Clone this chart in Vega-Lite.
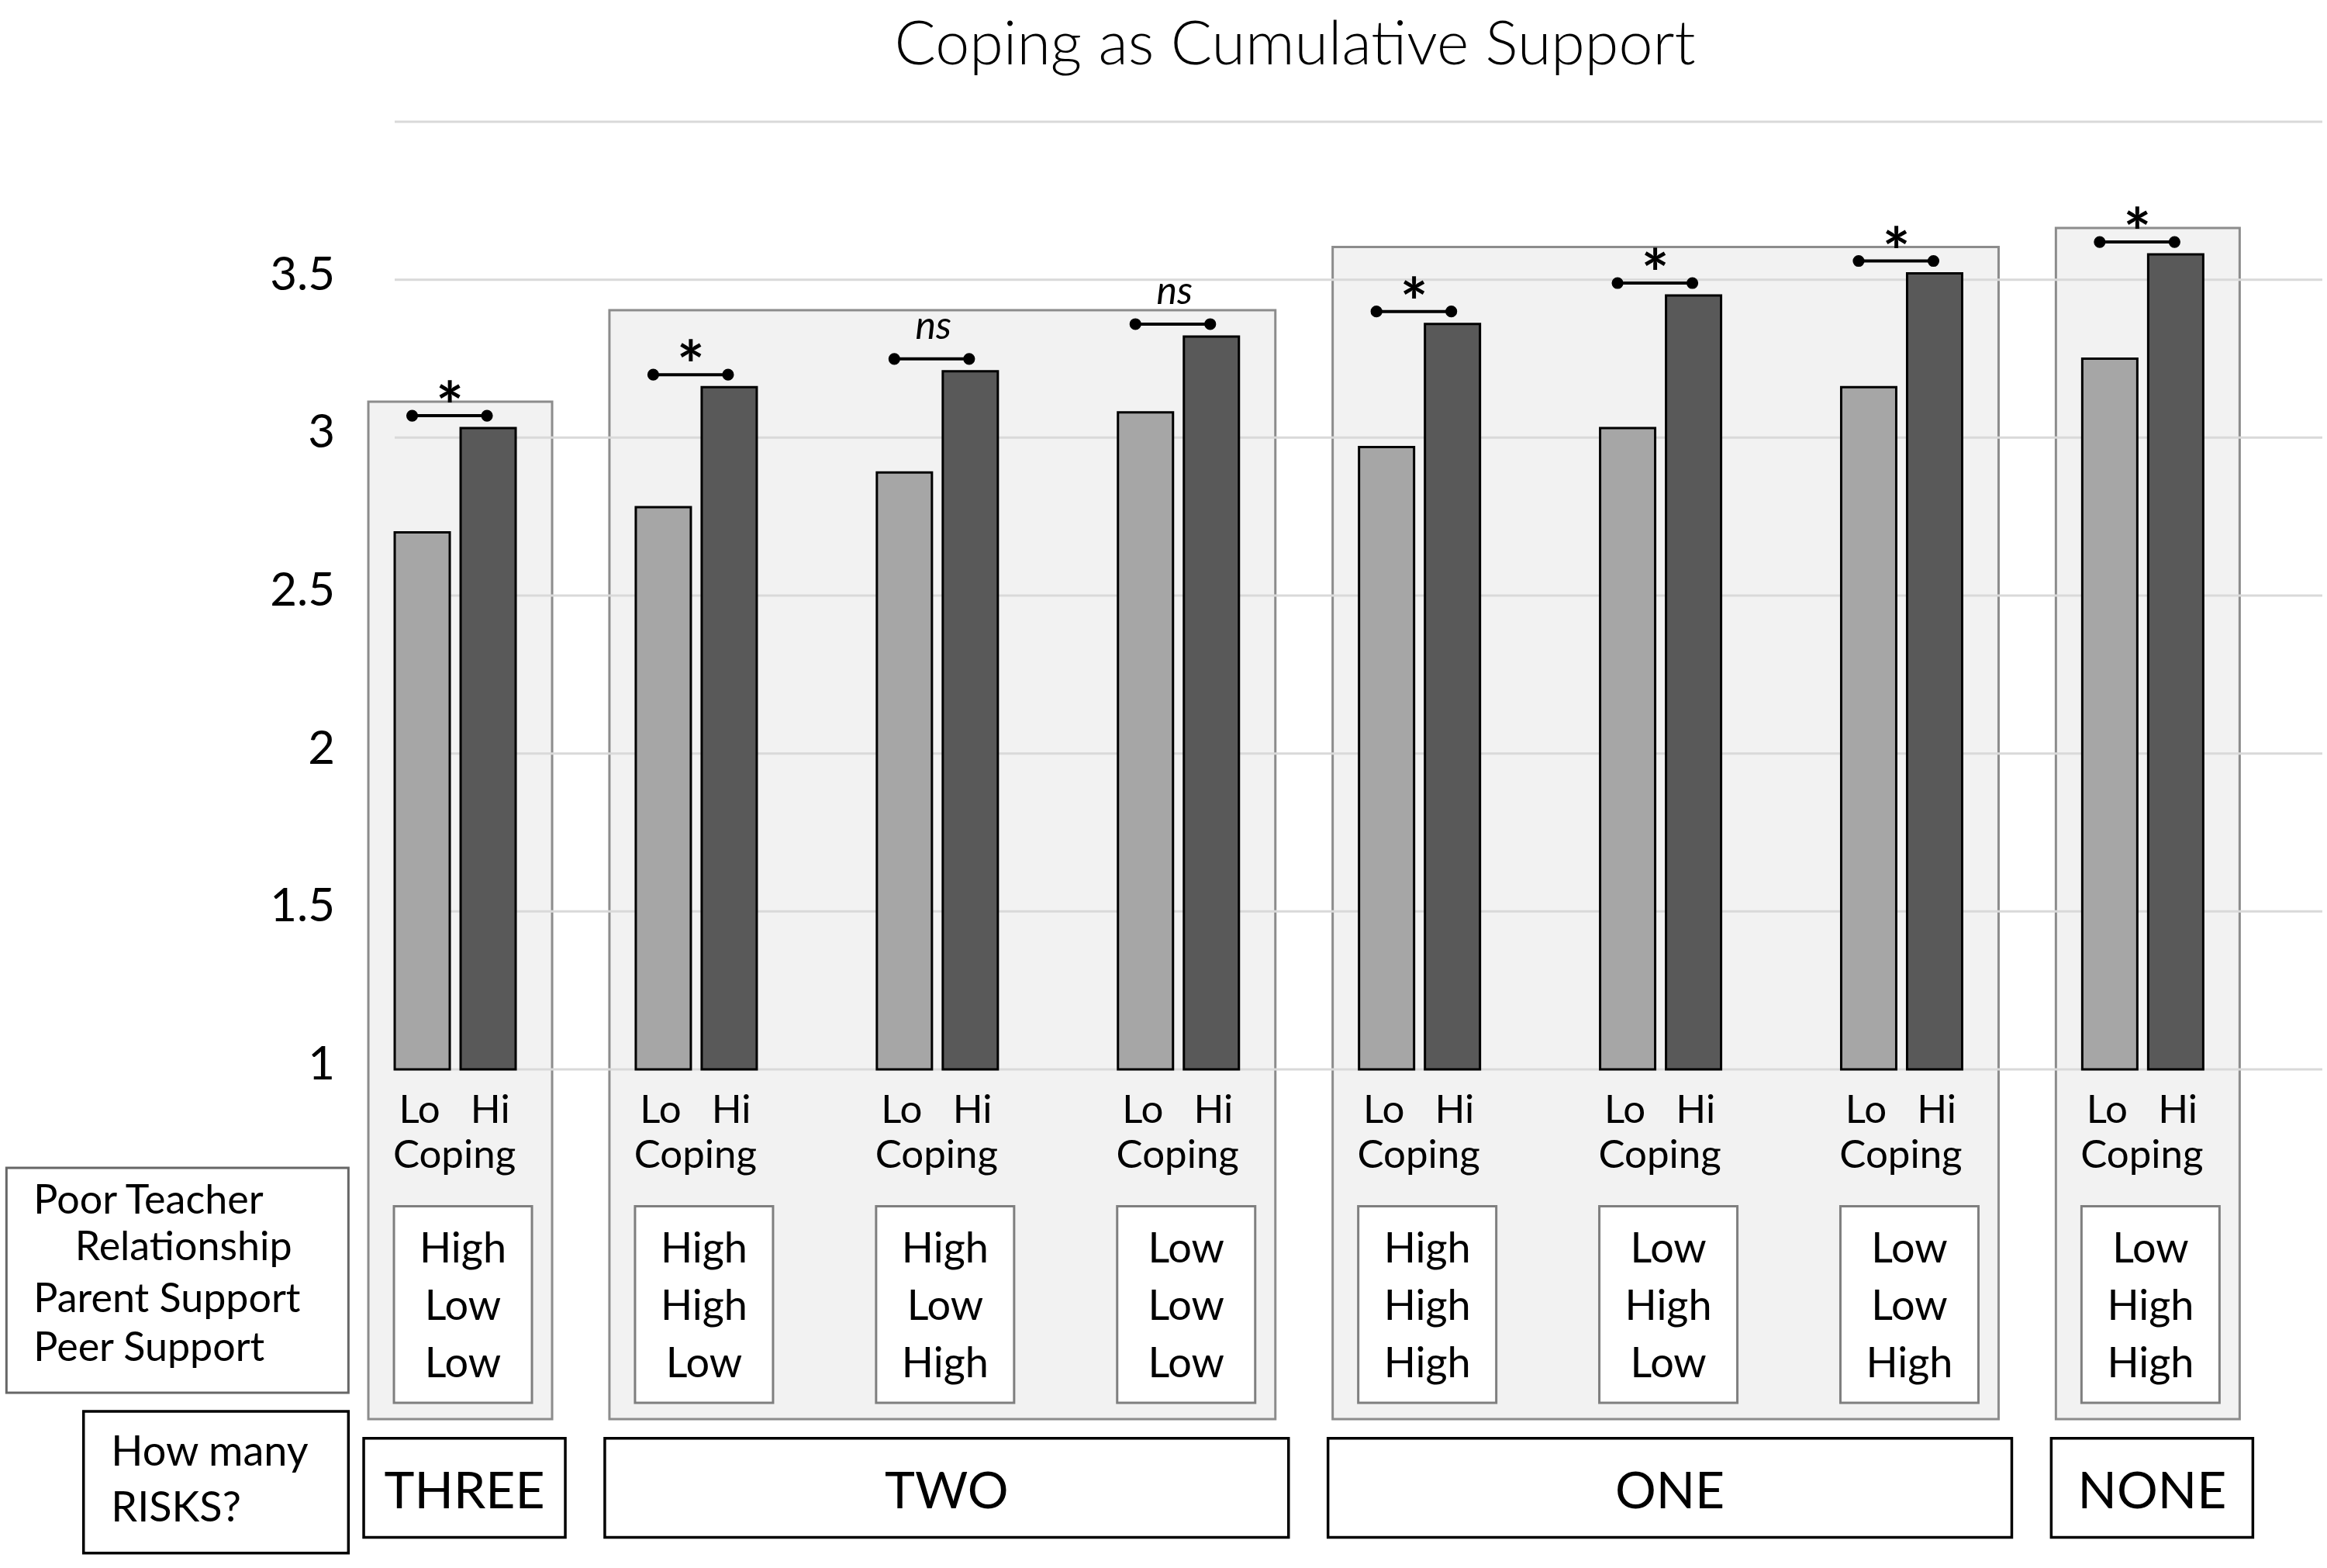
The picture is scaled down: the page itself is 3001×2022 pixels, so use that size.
{
  "$schema": "https://vega.github.io/schema/vega-lite/v6.json",
  "width": 2486,
  "height": 1222,
  "autosize": {"type": "none"},
  "padding": {"left": 509, "top": 157, "right": 6, "bottom": 643},
  "background": "white",
  "title": {"text": "Coping as Cumulative Support", "fontSize": 79, "font": "Lato", "fontWeight": 300, "color": "#000000", "anchor": "middle", "dx": -82, "offset": 56},
  "config": {"view": {"stroke": null}, "text": {"font": "Lato", "color": "#000000"}},
  "datasets": {
    "bars": [
      {"group": 1, "risk": "THREE", "coping": "Lo", "value": 2.70, "teacher": "High", "parent": "Low", "peer": "Low", "sig": "*"},
      {"group": 1, "risk": "THREE", "coping": "Hi", "value": 3.03, "teacher": "High", "parent": "Low", "peer": "Low", "sig": "*"},
      {"group": 2, "risk": "TWO", "coping": "Lo", "value": 2.78, "teacher": "High", "parent": "High", "peer": "Low", "sig": "*"},
      {"group": 2, "risk": "TWO", "coping": "Hi", "value": 3.16, "teacher": "High", "parent": "High", "peer": "Low", "sig": "*"},
      {"group": 3, "risk": "TWO", "coping": "Lo", "value": 2.89, "teacher": "High", "parent": "Low", "peer": "High", "sig": "ns"},
      {"group": 3, "risk": "TWO", "coping": "Hi", "value": 3.21, "teacher": "High", "parent": "Low", "peer": "High", "sig": "ns"},
      {"group": 4, "risk": "TWO", "coping": "Lo", "value": 3.08, "teacher": "Low", "parent": "Low", "peer": "Low", "sig": "ns"},
      {"group": 4, "risk": "TWO", "coping": "Hi", "value": 3.32, "teacher": "Low", "parent": "Low", "peer": "Low", "sig": "ns"},
      {"group": 5, "risk": "ONE", "coping": "Lo", "value": 2.97, "teacher": "High", "parent": "High", "peer": "High", "sig": "*"},
      {"group": 5, "risk": "ONE", "coping": "Hi", "value": 3.36, "teacher": "High", "parent": "High", "peer": "High", "sig": "*"},
      {"group": 6, "risk": "ONE", "coping": "Lo", "value": 3.03, "teacher": "Low", "parent": "High", "peer": "Low", "sig": "*"},
      {"group": 6, "risk": "ONE", "coping": "Hi", "value": 3.45, "teacher": "Low", "parent": "High", "peer": "Low", "sig": "*"},
      {"group": 7, "risk": "ONE", "coping": "Lo", "value": 3.16, "teacher": "Low", "parent": "Low", "peer": "High", "sig": "*"},
      {"group": 7, "risk": "ONE", "coping": "Hi", "value": 3.52, "teacher": "Low", "parent": "Low", "peer": "High", "sig": "*"},
      {"group": 8, "risk": "NONE", "coping": "Lo", "value": 3.25, "teacher": "Low", "parent": "High", "peer": "High", "sig": "*"},
      {"group": 8, "risk": "NONE", "coping": "Hi", "value": 3.58, "teacher": "Low", "parent": "High", "peer": "High", "sig": "*"}
    ],
    "grid": [{"v": 1}, {"v": 1.5}, {"v": 2}, {"v": 2.5}, {"v": 3}, {"v": 3.5}, {"v": 4}],
    "legend": [{"first": "Poor Teacher", "second": "Relationship", "rest": ["Parent Support", "Peer Support"]}],
    "question": [{"lines": ["How many", "RISKS?"]}]
  },
  "layer": [
    {
      "data": {"name": "bars"},
      "transform": [{"aggregate": [{"op": "min", "field": "group", "as": "g0"}, {"op": "max", "field": "group", "as": "g1"}, {"op": "max", "field": "value", "as": "vmax"}], "groupby": ["risk"]}],
      "mark": {"type": "rect", "fill": "#f2f2f2", "stroke": "#8c8c8c", "strokeWidth": 3, "xOffset": -112, "x2Offset": 125, "yOffset": -34},
      "encoding": {
        "x": {"field": "g0", "type": "quantitative", "scale": {"domain": [0.749, 8.745], "nice": false, "zero": false}, "axis": null},
        "x2": {"field": "g1"},
        "y": {"field": "vmax", "type": "quantitative", "scale": {"domain": [1, 4], "nice": false, "zero": false}, "axis": null},
        "y2": {"datum": -0.107}
      }
    },
    {
      "data": {"name": "grid"},
      "mark": {"type": "rule", "color": "#d9d9d9", "strokeWidth": 3},
      "encoding": {
        "y": {"field": "v", "type": "quantitative", "scale": {"domain": [1, 4], "nice": false, "zero": false}, "axis": null}
      }
    },
    {
      "data": {"name": "grid"},
      "transform": [{"filter": "datum.v < 4"}],
      "mark": {"type": "text", "fontSize": 60, "align": "right", "baseline": "alphabetic", "dy": 13},
      "encoding": {
        "x": {"datum": 0.5014, "scale": {"domain": [0.749, 8.745], "nice": false, "zero": false}, "axis": null},
        "y": {"field": "v", "type": "quantitative", "scale": {"domain": [1, 4], "nice": false, "zero": false}, "axis": null},
        "text": {"field": "v", "type": "quantitative", "format": "~g"}
      }
    },
    {
      "data": {"name": "bars"},
      "transform": [{"filter": "datum.coping === 'Lo'"}],
      "mark": {"type": "rect", "fill": "#a6a6a6", "stroke": "#000000", "strokeWidth": 3, "xOffset": -78, "x2Offset": -7},
      "encoding": {
        "x": {"field": "group", "type": "quantitative", "scale": {"domain": [0.749, 8.745], "nice": false, "zero": false}, "axis": null},
        "x2": {"field": "group"},
        "y": {"field": "value", "type": "quantitative", "scale": {"domain": [1, 4], "nice": false, "zero": false}, "axis": null},
        "y2": {"datum": 1}
      }
    },
    {
      "data": {"name": "bars"},
      "transform": [{"filter": "datum.coping === 'Hi'"}],
      "mark": {"type": "rect", "fill": "#595959", "stroke": "#000000", "strokeWidth": 3, "xOffset": 7, "x2Offset": 78},
      "encoding": {
        "x": {"field": "group", "type": "quantitative", "scale": {"domain": [0.749, 8.745], "nice": false, "zero": false}, "axis": null},
        "x2": {"field": "group"},
        "y": {"field": "value", "type": "quantitative", "scale": {"domain": [1, 4], "nice": false, "zero": false}, "axis": null},
        "y2": {"datum": 1}
      }
    },
    {
      "data": {"name": "bars"},
      "transform": [{"filter": "datum.coping === 'Hi'"}],
      "mark": {"type": "rule", "color": "#000000", "strokeWidth": 4, "xOffset": -55.5, "x2Offset": 41, "yOffset": -16},
      "encoding": {
        "x": {"field": "group", "type": "quantitative", "scale": {"domain": [0.749, 8.745], "nice": false, "zero": false}, "axis": null},
        "x2": {"field": "group"},
        "y": {"field": "value", "type": "quantitative", "scale": {"domain": [1, 4], "nice": false, "zero": false}, "axis": null}
      }
    },
    {
      "data": {"name": "bars"},
      "transform": [{"filter": "datum.coping === 'Hi'"}],
      "mark": {"type": "circle", "color": "#000000", "opacity": 1, "size": 230, "xOffset": -55.5, "yOffset": -16},
      "encoding": {
        "x": {"field": "group", "type": "quantitative", "scale": {"domain": [0.749, 8.745], "nice": false, "zero": false}, "axis": null},
        "y": {"field": "value", "type": "quantitative", "scale": {"domain": [1, 4], "nice": false, "zero": false}, "axis": null}
      }
    },
    {
      "data": {"name": "bars"},
      "transform": [{"filter": "datum.coping === 'Hi'"}],
      "mark": {"type": "circle", "color": "#000000", "opacity": 1, "size": 230, "xOffset": 41, "yOffset": -16},
      "encoding": {
        "x": {"field": "group", "type": "quantitative", "scale": {"domain": [0.749, 8.745], "nice": false, "zero": false}, "axis": null},
        "y": {"field": "value", "type": "quantitative", "scale": {"domain": [1, 4], "nice": false, "zero": false}, "axis": null}
      }
    },
    {
      "data": {"name": "bars"},
      "transform": [{"filter": "datum.coping === 'Hi' && datum.sig === '*'"}],
      "mark": {"type": "text", "fontSize": 84, "fontWeight": "bold", "align": "center", "baseline": "alphabetic", "dx": -7, "dy": 2},
      "encoding": {
        "x": {"field": "group", "type": "quantitative", "scale": {"domain": [0.749, 8.745], "nice": false, "zero": false}, "axis": null},
        "y": {"field": "value", "type": "quantitative", "scale": {"domain": [1, 4], "nice": false, "zero": false}, "axis": null},
        "text": {"field": "sig"}
      }
    },
    {
      "data": {"name": "bars"},
      "transform": [{"filter": "datum.coping === 'Hi' && datum.sig === 'ns'"}],
      "mark": {"type": "text", "fontSize": 50, "fontStyle": "italic", "align": "center", "baseline": "alphabetic", "dx": -5, "dy": -42},
      "encoding": {
        "x": {"field": "group", "type": "quantitative", "scale": {"domain": [0.749, 8.745], "nice": false, "zero": false}, "axis": null},
        "y": {"field": "value", "type": "quantitative", "scale": {"domain": [1, 4], "nice": false, "zero": false}, "axis": null},
        "text": {"field": "sig"}
      }
    },
    {
      "data": {"name": "bars"},
      "transform": [{"filter": "datum.coping === 'Hi'"}],
      "mark": {"type": "text", "fontSize": 51, "align": "center", "baseline": "alphabetic", "lineHeight": 58, "dx": -1},
      "encoding": {
        "x": {"field": "group", "type": "quantitative", "scale": {"domain": [0.749, 8.745], "nice": false, "zero": false}, "axis": null},
        "y": {"datum": 0.8306, "scale": {"domain": [1, 4], "nice": false, "zero": false}, "axis": null},
        "text": {"value": ["Lo\u00a0\u00a0\u00a0Hi", "Coping"]}
      }
    },
    {
      "data": {"name": "bars"},
      "transform": [{"filter": "datum.coping === 'Hi'"}],
      "mark": {"type": "rect", "fill": "#ffffff", "stroke": "#7f7f7f", "strokeWidth": 3, "xOffset": -79, "x2Offset": 99},
      "encoding": {
        "x": {"field": "group", "type": "quantitative", "scale": {"domain": [0.749, 8.745], "nice": false, "zero": false}, "axis": null},
        "x2": {"field": "group"},
        "y": {"datum": 0.5669, "scale": {"domain": [1, 4], "nice": false, "zero": false}, "axis": null},
        "y2": {"datum": -0.0557}
      }
    },
    {
      "data": {"name": "bars"},
      "transform": [{"filter": "datum.coping === 'Hi'"}],
      "mark": {"type": "text", "fontSize": 54, "align": "center", "baseline": "alphabetic", "dx": 10},
      "encoding": {
        "x": {"field": "group", "type": "quantitative", "scale": {"domain": [0.749, 8.745], "nice": false, "zero": false}, "axis": null},
        "y": {"datum": 0.3887, "scale": {"domain": [1, 4], "nice": false, "zero": false}, "axis": null},
        "text": {"field": "teacher"}
      }
    },
    {
      "data": {"name": "bars"},
      "transform": [{"filter": "datum.coping === 'Hi'"}],
      "mark": {"type": "text", "fontSize": 54, "align": "center", "baseline": "alphabetic", "dx": 10},
      "encoding": {
        "x": {"field": "group", "type": "quantitative", "scale": {"domain": [0.749, 8.745], "nice": false, "zero": false}, "axis": null},
        "y": {"datum": 0.2070, "scale": {"domain": [1, 4], "nice": false, "zero": false}, "axis": null},
        "text": {"field": "parent"}
      }
    },
    {
      "data": {"name": "bars"},
      "transform": [{"filter": "datum.coping === 'Hi'"}],
      "mark": {"type": "text", "fontSize": 54, "align": "center", "baseline": "alphabetic", "dx": 10},
      "encoding": {
        "x": {"field": "group", "type": "quantitative", "scale": {"domain": [0.749, 8.745], "nice": false, "zero": false}, "axis": null},
        "y": {"datum": 0.0265, "scale": {"domain": [1, 4], "nice": false, "zero": false}, "axis": null},
        "text": {"field": "peer"}
      }
    },
    {
      "data": {"name": "bars"},
      "transform": [{"aggregate": [{"op": "min", "field": "group", "as": "g0"}, {"op": "max", "field": "group", "as": "g1"}], "groupby": ["risk"]}],
      "mark": {"type": "rect", "fill": "#ffffff", "stroke": "#000000", "strokeWidth": 3.5, "xOffset": -118, "x2Offset": 142},
      "encoding": {
        "x": {"field": "g0", "type": "quantitative", "scale": {"domain": [0.749, 8.745], "nice": false, "zero": false}, "axis": null},
        "x2": {"field": "g1"},
        "y": {"datum": -0.1677, "scale": {"domain": [1, 4], "nice": false, "zero": false}, "axis": null},
        "y2": {"datum": -0.4817}
      }
    },
    {
      "data": {"name": "bars"},
      "transform": [{"aggregate": [{"op": "mean", "field": "group", "as": "gm"}], "groupby": ["risk"]}],
      "mark": {"type": "text", "fontSize": 66, "align": "center", "baseline": "alphabetic", "dx": 12},
      "encoding": {
        "x": {"field": "gm", "type": "quantitative", "scale": {"domain": [0.749, 8.745], "nice": false, "zero": false}, "axis": null},
        "y": {"datum": -0.389, "scale": {"domain": [1, 4], "nice": false, "zero": false}, "axis": null},
        "text": {"field": "risk"}
      }
    },
    {
      "data": {"name": "legend"},
      "mark": {"type": "rect", "fill": "#ffffff", "stroke": "#666666", "strokeWidth": 3},
      "encoding": {
        "x": {"datum": -0.8614, "scale": {"domain": [0.749, 8.745], "nice": false, "zero": false}, "axis": null},
        "x2": {"datum": 0.5571},
        "y": {"datum": 0.6882, "scale": {"domain": [1, 4], "nice": false, "zero": false}, "axis": null},
        "y2": {"datum": -0.0238}
      }
    },
    {
      "data": {"name": "legend"},
      "mark": {"type": "text", "fontSize": 52, "align": "left", "baseline": "alphabetic"},
      "encoding": {
        "x": {"datum": -0.7488, "scale": {"domain": [0.749, 8.745], "nice": false, "zero": false}, "axis": null},
        "y": {"datum": 0.5426, "scale": {"domain": [1, 4], "nice": false, "zero": false}, "axis": null},
        "text": {"field": "first"}
      }
    },
    {
      "data": {"name": "legend"},
      "mark": {"type": "text", "fontSize": 52, "align": "left", "baseline": "alphabetic"},
      "encoding": {
        "x": {"datum": -0.577, "scale": {"domain": [0.749, 8.745], "nice": false, "zero": false}, "axis": null},
        "y": {"datum": 0.396, "scale": {"domain": [1, 4], "nice": false, "zero": false}, "axis": null},
        "text": {"field": "second"}
      }
    },
    {
      "data": {"name": "legend"},
      "mark": {"type": "text", "fontSize": 52, "align": "left", "baseline": "alphabetic", "lineHeight": 63.3},
      "encoding": {
        "x": {"datum": -0.7488, "scale": {"domain": [0.749, 8.745], "nice": false, "zero": false}, "axis": null},
        "y": {"datum": 0.2323, "scale": {"domain": [1, 4], "nice": false, "zero": false}, "axis": null},
        "text": {"field": "rest"}
      }
    },
    {
      "data": {"name": "question"},
      "mark": {"type": "rect", "fill": "#ffffff", "stroke": "#000000", "strokeWidth": 3.5},
      "encoding": {
        "x": {"datum": -0.5417, "scale": {"domain": [0.749, 8.745], "nice": false, "zero": false}, "axis": null},
        "x2": {"datum": 0.5571},
        "y": {"datum": -0.0827, "scale": {"domain": [1, 4], "nice": false, "zero": false}, "axis": null},
        "y2": {"datum": -0.5313}
      }
    },
    {
      "data": {"name": "question"},
      "mark": {"type": "text", "fontSize": 54, "align": "left", "baseline": "alphabetic", "lineHeight": 72},
      "encoding": {
        "x": {"datum": -0.4272, "scale": {"domain": [0.749, 8.745], "nice": false, "zero": false}, "axis": null},
        "y": {"datum": -0.2546, "scale": {"domain": [1, 4], "nice": false, "zero": false}, "axis": null},
        "text": {"field": "lines"}
      }
    }
  ]
}
